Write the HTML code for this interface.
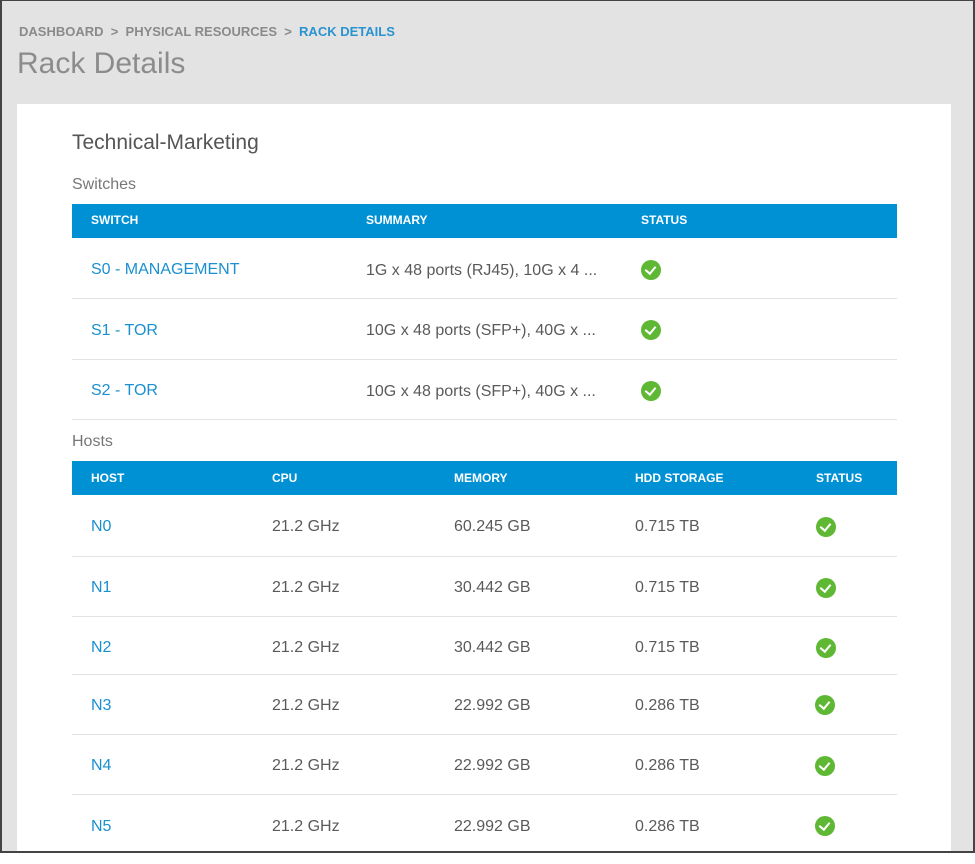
<!DOCTYPE html>
<html><head><style>
body{margin:0;width:975px;height:853px;overflow:hidden;background:#fff;font-family:"Liberation Sans",sans-serif;}
.frame{position:absolute;left:0;top:0;width:971px;height:850px;border:2px solid #444;border-top-width:1px;background:#e3e3e3;}
.t{position:absolute;white-space:nowrap;}
.panel{position:absolute;left:17px;top:104px;width:934px;height:760px;background:#fff;}
.hdr{position:absolute;left:72px;width:825px;height:34px;background:#0091d5;}
.h{position:absolute;color:#fff;font-weight:bold;font-size:12px;}
.sep{position:absolute;left:72px;width:825px;height:1px;background:#e2e2e2;}
.c{position:absolute;width:20px;height:20px;border-radius:50%;background:#5fb833;}
.c:after{content:"";position:absolute;left:6px;top:4px;width:5px;height:8px;border:solid #fff;border-width:0 2.5px 2.5px 0;transform:rotate(40deg);}
.l{color:#1a8fd1;font-size:16px;margin-top:2px;}
.d{color:#5a5a5a;font-size:16px;margin-top:2px;}
</style></head><body>
<div class="frame"></div>
<div class="t" style="left:19px;top:24px;font-size:13px;font-weight:bold;color:#8a8a8a">DASHBOARD &nbsp;&gt;&nbsp; PHYSICAL RESOURCES &nbsp;&gt;&nbsp; <span style="color:#2a93d0">RACK DETAILS</span></div>
<div class="t" style="left:17px;top:47px;font-size:30px;color:#8c8c8c">Rack Details</div>
<div class="panel"></div>
<div class="t" style="left:72px;top:131px;font-size:21px;color:#555">Technical-Marketing</div>
<div class="t" style="left:72px;top:176px;font-size:16px;color:#777">Switches</div>
<div class="hdr" style="top:204px"></div>
<div class="t h" style="left:91px;top:213px">SWITCH</div>
<div class="t h" style="left:366px;top:213px">SUMMARY</div>
<div class="t h" style="left:641px;top:213px">STATUS</div>

<div class="t l" style="left:91px;top:259px">S0 - MANAGEMENT</div><div class="t d" style="left:366px;top:260px">1G x 48 ports (RJ45), 10G x 4 ...</div><div class="c" style="left:641px;top:260px"></div>
<div class="sep" style="top:298px"></div>
<div class="t l" style="left:91px;top:320px">S1 - TOR</div><div class="t d" style="left:366px;top:320px">10G x 48 ports (SFP+), 40G x ...</div><div class="c" style="left:641px;top:320px"></div>
<div class="sep" style="top:359px"></div>
<div class="t l" style="left:91px;top:380px">S2 - TOR</div><div class="t d" style="left:366px;top:381px">10G x 48 ports (SFP+), 40G x ...</div><div class="c" style="left:641px;top:381px"></div>
<div class="sep" style="top:419px"></div>

<div class="t" style="left:72px;top:433px;font-size:16px;color:#777">Hosts</div>
<div class="hdr" style="top:461px"></div>
<div class="t h" style="left:91px;top:471px">HOST</div>
<div class="t h" style="left:272px;top:471px">CPU</div>
<div class="t h" style="left:454px;top:471px">MEMORY</div>
<div class="t h" style="left:635px;top:471px">HDD STORAGE</div>
<div class="t h" style="left:816px;top:471px">STATUS</div>

<div class="t l" style="left:91px;top:516px">N0</div><div class="t d" style="left:272px;top:516px">21.2 GHz</div><div class="t d" style="left:454px;top:516px">60.245 GB</div><div class="t d" style="left:635px;top:516px">0.715 TB</div><div class="c" style="left:816px;top:517px"></div>
<div class="sep" style="top:556px"></div>
<div class="t l" style="left:91px;top:577px">N1</div><div class="t d" style="left:272px;top:577px">21.2 GHz</div><div class="t d" style="left:454px;top:577px">30.442 GB</div><div class="t d" style="left:635px;top:577px">0.715 TB</div><div class="c" style="left:816px;top:578px"></div>
<div class="sep" style="top:616px"></div>
<div class="t l" style="left:91px;top:637px">N2</div><div class="t d" style="left:272px;top:637px">21.2 GHz</div><div class="t d" style="left:454px;top:637px">30.442 GB</div><div class="t d" style="left:635px;top:637px">0.715 TB</div><div class="c" style="left:816px;top:638px"></div>
<div class="sep" style="top:674px"></div>
<div class="t l" style="left:91px;top:695px">N3</div><div class="t d" style="left:272px;top:695px">21.2 GHz</div><div class="t d" style="left:454px;top:695px">22.992 GB</div><div class="t d" style="left:635px;top:695px">0.286 TB</div><div class="c" style="left:815px;top:695px"></div>
<div class="sep" style="top:734px"></div>
<div class="t l" style="left:91px;top:755px">N4</div><div class="t d" style="left:272px;top:755px">21.2 GHz</div><div class="t d" style="left:454px;top:755px">22.992 GB</div><div class="t d" style="left:635px;top:755px">0.286 TB</div><div class="c" style="left:815px;top:756px"></div>
<div class="sep" style="top:794px"></div>
<div class="t l" style="left:91px;top:816px">N5</div><div class="t d" style="left:272px;top:816px">21.2 GHz</div><div class="t d" style="left:454px;top:816px">22.992 GB</div><div class="t d" style="left:635px;top:816px">0.286 TB</div><div class="c" style="left:815px;top:816px"></div>
<div style="position:absolute;left:0;top:851px;width:975px;height:2px;background:#444"></div>
</body></html>
